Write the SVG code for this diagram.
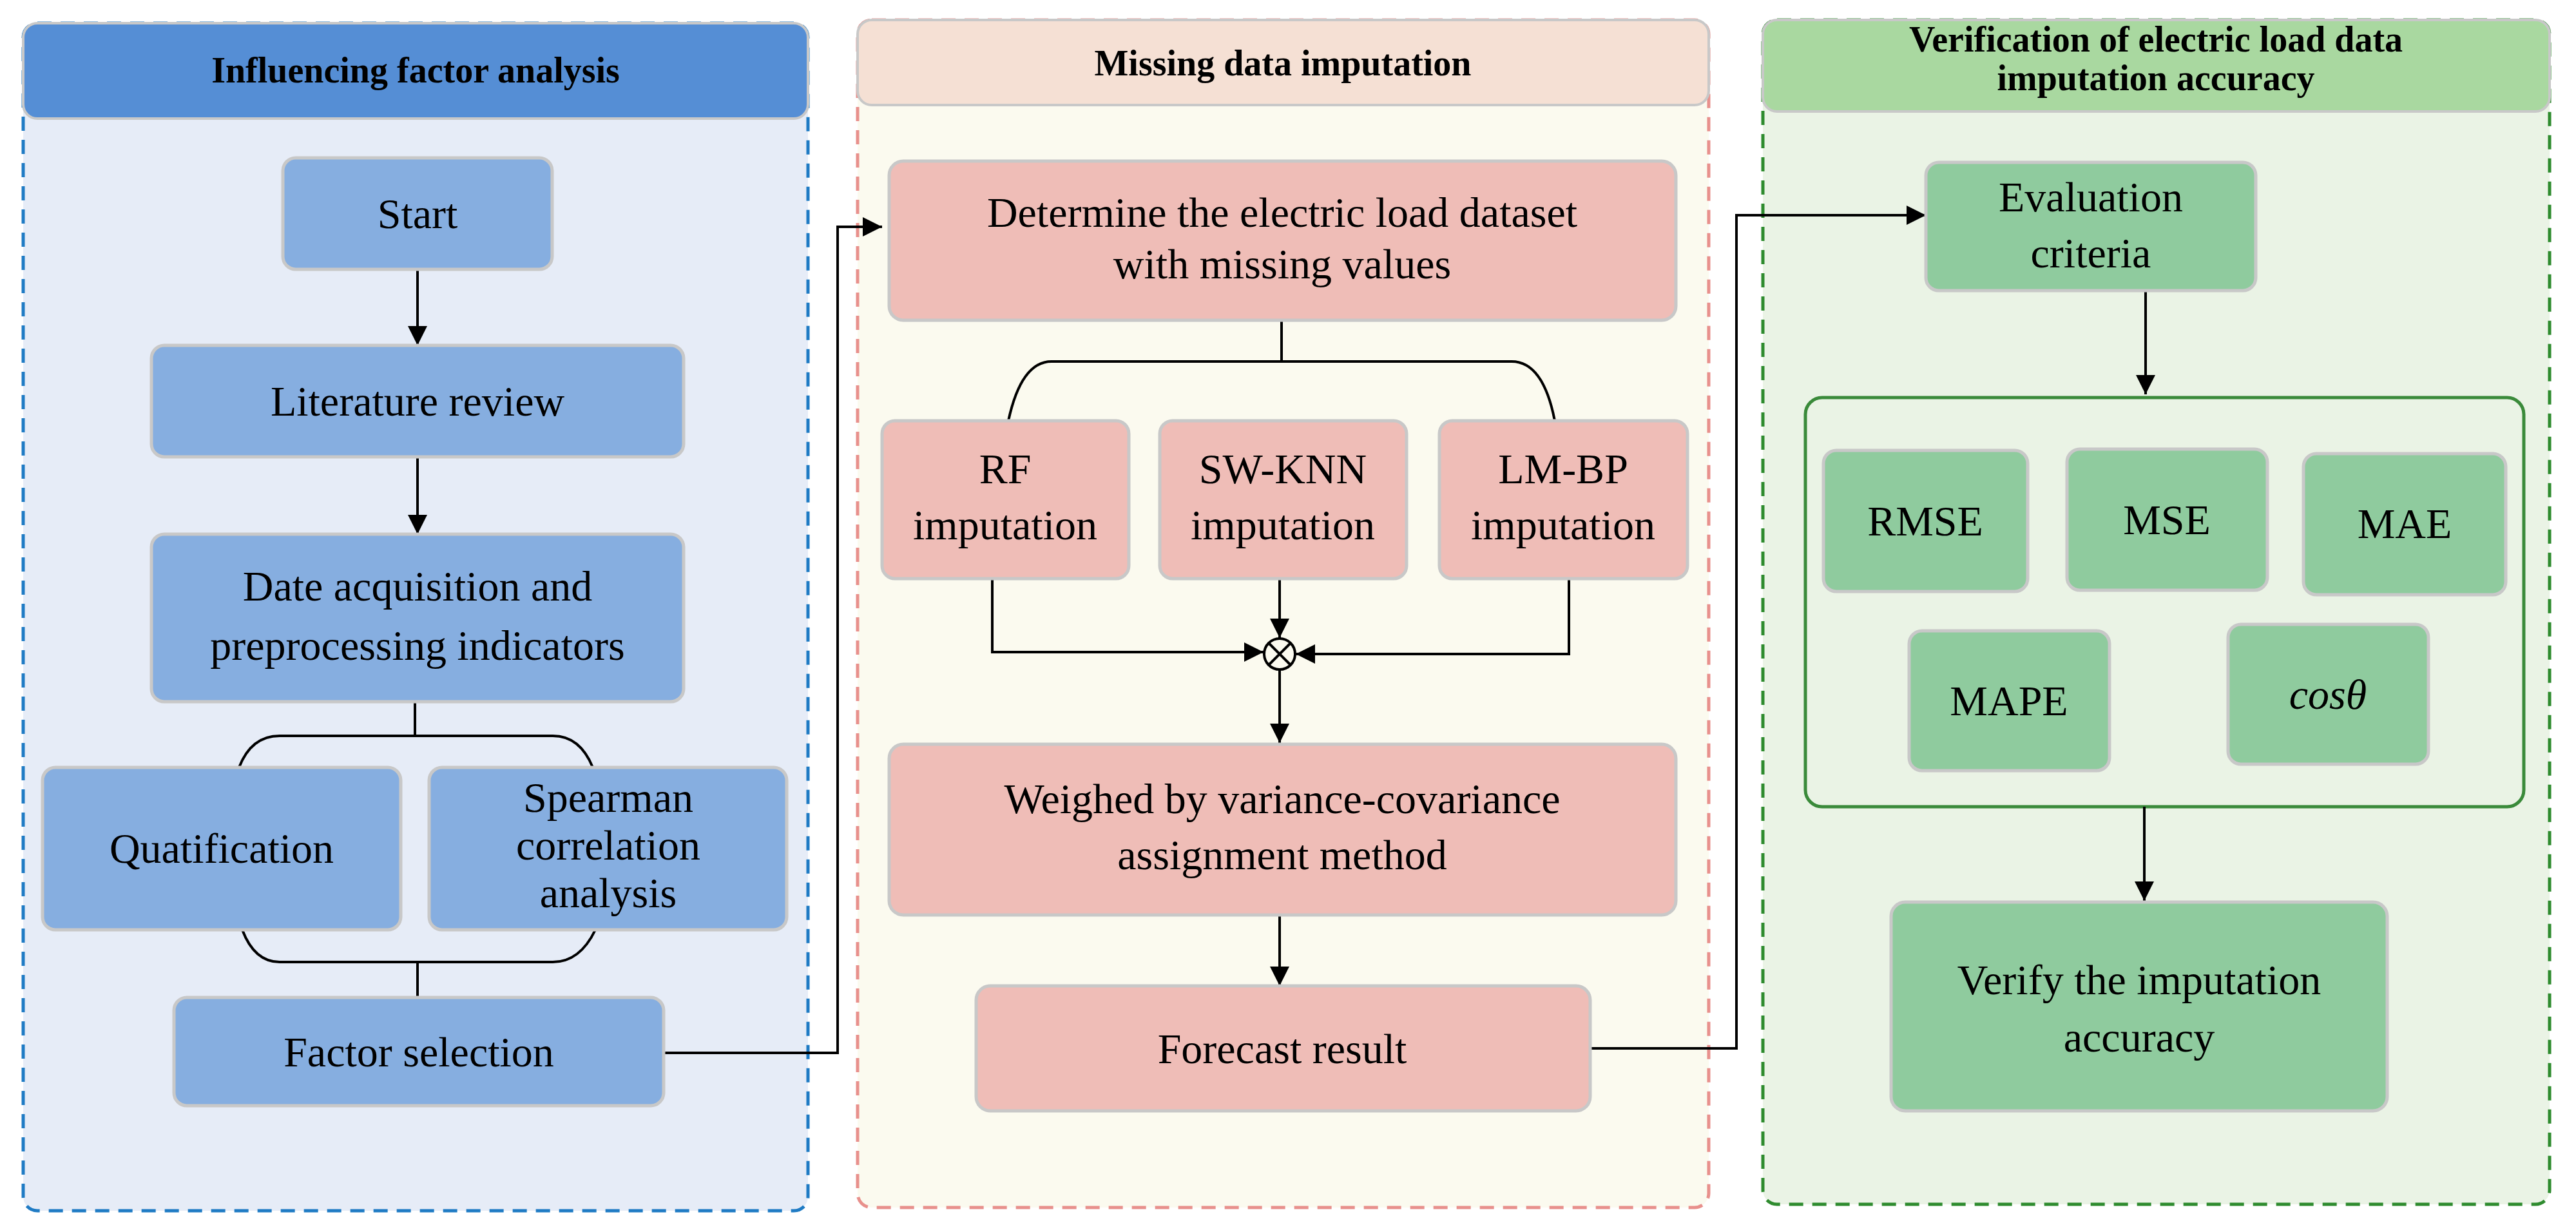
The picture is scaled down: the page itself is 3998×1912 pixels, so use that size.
<svg xmlns="http://www.w3.org/2000/svg" width="3998" height="1912" viewBox="0 0 3998 1912">
<defs>
<marker id="ar" viewBox="0 0 10 10" refX="9" refY="5" markerWidth="6" markerHeight="6" orient="auto" markerUnits="userSpaceOnUse" style="overflow:visible"><path d="M0,0 L10,5 L0,10 z" fill="#000"/></marker>
<marker id="a" viewBox="0 0 10 10" refX="10" refY="5" markerWidth="34" markerHeight="30" orient="auto" markerUnits="userSpaceOnUse"><path d="M0,0 L10,5 L0,10 z" fill="#000"/></marker>
</defs>
<style>
text{font-family:"Liberation Serif","Times New Roman",serif;fill:#000;text-anchor:middle;}
.t{font-size:66px;}
.h{font-size:56px;font-weight:bold;}
.n{stroke:#C8C8C8;stroke-width:5;}
.b{fill:#86AEE0;} .r{fill:#EFBDB7;} .g{fill:#8FCB9E;}
.c{fill:none;stroke:#000;stroke-width:4;}
</style>
<rect width="3998" height="1912" fill="#fff"/>
<g id="panel1">
<rect x="36" y="36" width="1218" height="1843" rx="22" fill="#E6ECF7" stroke="#1F7BC4" stroke-width="5" stroke-dasharray="22,14"/>
<rect x="36" y="36" width="1218" height="148" rx="22" fill="#558ED5" stroke="#C8C8C8" stroke-width="4"/>
<text class="h" x="645" y="128">Influencing factor analysis</text>
</g>
<g id="panel2">
<rect x="1331" y="31" width="1321" height="1843" rx="22" fill="#FBFAEF" stroke="#E8908C" stroke-width="5" stroke-dasharray="22,14"/>
<rect x="1331" y="31" width="1321" height="132" rx="22" fill="#F5E0D4" stroke="#C8C8C8" stroke-width="4"/>
<text class="h" x="1991" y="117">Missing data imputation</text>
</g>
<g id="panel3">
<rect x="2736" y="31" width="1221" height="1838" rx="22" fill="#EAF3E5" stroke="#2E8B2E" stroke-width="5" stroke-dasharray="22,14"/>
<rect x="2736" y="31" width="1221" height="142" rx="22" fill="#A9D8A0" stroke="#C8C8C8" stroke-width="4"/>
<text class="h" x="3346" y="80">Verification of electric load data</text>
<text class="h" x="3346" y="140">imputation accuracy</text>
<rect x="2802" y="617" width="1115" height="635" rx="26" fill="none" stroke="#3A8A3A" stroke-width="5"/>
</g>
<g id="connectors">
<path class="c" d="M648,418 V536" marker-end="url(#a)"/>
<path class="c" d="M648,709 V829" marker-end="url(#a)"/>
<path class="c" d="M644,1089 V1142 M434,1142 H858 M434,1142 Q390,1142 371,1191 M858,1142 Q900,1142 920,1191"/>
<path class="c" d="M376,1443 Q395,1493 434,1493 H858 Q900,1493 924,1443 M648,1493 V1548"/>
<path class="c" d="M1030,1634 H1300 V352 H1369" marker-end="url(#a)"/>
<path class="c" d="M1989,497 V561 M1632,561 H2346 M1632,561 Q1585,561 1565,653 M2346,561 Q2395,561 2413,653" />
<path class="c" d="M1540,898 V1012 H1961" marker-end="url(#a)"/>
<path class="c" d="M2435,898 V1015 H2011" marker-end="url(#a)"/>
<path class="c" d="M1986,898 V990" marker-end="url(#a)"/>
<circle cx="1986" cy="1015" r="24" fill="none" stroke="#000" stroke-width="4"/>
<path d="M1969,998 L2003,1032 M2003,998 L1969,1032" stroke="#000" stroke-width="4"/>
<path class="c" d="M1986,1039 V1153" marker-end="url(#a)"/>
<path class="c" d="M1986,1420 V1530" marker-end="url(#a)"/>
<path class="c" d="M2468,1627 H2695 V334 H2989" marker-end="url(#a)"/>
<path class="c" d="M3330,451 V612" marker-end="url(#a)"/>
<path class="c" d="M3328,1252 V1398" marker-end="url(#a)"/>
</g>
<g id="start"><rect class="n b" x="439" y="245" width="418" height="173" rx="20"/><text class="t" x="648" y="354">Start</text></g>
<g id="literature"><rect class="n b" x="235" y="536" width="826" height="173" rx="20"/><text class="t" x="648" y="645">Literature review</text></g>
<g id="date"><rect class="n b" x="235" y="829" width="826" height="260" rx="20"/><text class="t" x="648" y="932">Date acquisition and</text><text class="t" x="648" y="1024">preprocessing indicators</text></g>
<g id="quat"><rect class="n b" x="66" y="1191" width="556" height="252" rx="20"/><text class="t" x="344" y="1339">Quatification</text></g>
<g id="spearman"><rect class="n b" x="666" y="1191" width="555" height="252" rx="20"/><text class="t" x="944" y="1260">Spearman</text><text class="t" x="944" y="1334">correlation</text><text class="t" x="944" y="1408">analysis</text></g>
<g id="factor"><rect class="n b" x="270" y="1548" width="760" height="168" rx="20"/><text class="t" x="650" y="1655">Factor selection</text></g>
<g id="determine"><rect class="n r" x="1380" y="250" width="1221" height="247" rx="22"/><text class="t" x="1990" y="352">Determine the electric load dataset</text><text class="t" x="1990" y="432">with missing values</text></g>
<g id="rf"><rect class="n r" x="1369" y="653" width="383" height="245" rx="20"/><text class="t" x="1560" y="750">RF</text><text class="t" x="1560" y="837">imputation</text></g>
<g id="swknn"><rect class="n r" x="1800" y="653" width="383" height="245" rx="20"/><text class="t" x="1991" y="750">SW-KNN</text><text class="t" x="1991" y="837">imputation</text></g>
<g id="lmbp"><rect class="n r" x="2234" y="653" width="385" height="245" rx="20"/><text class="t" x="2426" y="750">LM-BP</text><text class="t" x="2426" y="837">imputation</text></g>
<g id="weighed"><rect class="n r" x="1380" y="1155" width="1221" height="265" rx="22"/><text class="t" x="1990" y="1262">Weighed by variance-covariance</text><text class="t" x="1990" y="1349">assignment method</text></g>
<g id="forecast"><rect class="n r" x="1515" y="1530" width="953" height="194" rx="22"/><text class="t" x="1990" y="1650">Forecast result</text></g>
<g id="evaluation"><rect class="n g" x="2989" y="252" width="512" height="199" rx="20"/><text class="t" x="3245" y="328">Evaluation</text><text class="t" x="3245" y="415">criteria</text></g>
<g id="rmse"><rect class="n g" x="2830" y="699" width="317" height="219" rx="20"/><text class="t" x="2988" y="831">RMSE</text></g>
<g id="mse"><rect class="n g" x="3208" y="697" width="311" height="219" rx="20"/><text class="t" x="3363" y="829">MSE</text></g>
<g id="mae"><rect class="n g" x="3575" y="704" width="314" height="219" rx="20"/><text class="t" x="3732" y="835">MAE</text></g>
<g id="mape"><rect class="n g" x="2963" y="979" width="311" height="217" rx="20"/><text class="t" x="3118" y="1110">MAPE</text></g>
<g id="cos"><rect class="n g" x="3458" y="969" width="311" height="217" rx="20"/><text class="t" x="3613" y="1100" font-style="italic">cosθ</text></g>
<g id="verify"><rect class="n g" x="2935" y="1400" width="770" height="324" rx="22"/><text class="t" x="3320" y="1543">Verify the imputation</text><text class="t" x="3320" y="1632">accuracy</text></g>
</svg>
